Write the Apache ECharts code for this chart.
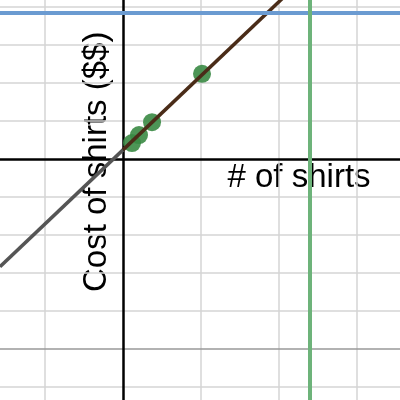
<!DOCTYPE html>
<html><head><meta charset="utf-8">
<script src="https://cdn.jsdelivr.net/npm/echarts@6/dist/echarts.min.js"></script>
<style>html,body{margin:0;padding:0;background:#fff}#c{width:400px;height:400px}</style>
</head><body><div id="c"></div>
<script>
const pointsX = [0.115, 0.205, 0.372, 1.013];
const pointsY = [0.42, 0.63, 0.97, 2.24];
const lineSlope = 1.95;
const lineIntercept = 0.24;
const horizontalY = 3.84;
const verticalX = 2.4;
const xRange = [-1.577, 3.551];
const yRange = [-6.342, 4.184];
const xGrid = [-1, 1, 2, 3];
const yGrid = [-6, -4, -3, -2, -1, 1, 2, 3, 4];
const xTitle = '# of shirts';
const yTitle = 'Cost of shirts ($$)';

const f = x => lineSlope * x + lineIntercept;
const gridStyle = {color: '#d4d4d4', width: 1.5, type: 'solid'};
const chart = echarts.init(document.getElementById('c'));
chart.setOption({
  animation: false,
  grid: {left: 0, right: 0, top: 0, bottom: 0},
  xAxis: {type: 'value', min: xRange[0], max: xRange[1],
    axisLine: {onZero: true, lineStyle: {color: '#000', width: 2.5}}, axisTick: {show: false}, axisLabel: {show: false},
    splitLine: {show: false}},
  yAxis: {type: 'value', min: yRange[0], max: yRange[1],
    axisLine: {onZero: true, lineStyle: {color: '#000', width: 2.5}}, axisTick: {show: false}, axisLabel: {show: false},
    splitLine: {show: false}},
  series: [
    {type: 'line', data: [[-5, 0], [5, 0]], symbol: 'none', lineStyle: {width: 0}, silent: true, z: 0,
     markLine: {symbol: 'none', silent: true, label: {show: false}, z: 0,
       data: xGrid.map(v => ({xAxis: v, lineStyle: gridStyle}))
         .concat(yGrid.map(v => ({yAxis: v, lineStyle: gridStyle})))
         .concat([{yAxis: -5, lineStyle: {color: '#999', width: 1.5, type: 'solid'}}])}},
    {type: 'line', data: [[-5, 0], [5, 0]], symbol: 'none', lineStyle: {width: 0}, silent: true, z: 1,
     markLine: {symbol: 'none', silent: true, label: {show: false},
       data: [{yAxis: horizontalY, lineStyle: {color: '#6b9bd1', width: 4, type: 'solid'}},
              {xAxis: verticalX, lineStyle: {color: '#6db37a', width: 4, type: 'solid'}}]}},
    {type: 'line', data: [[xRange[0], f(xRange[0])], [0, f(0)]], symbol: 'none', lineStyle: {color: '#555', width: 3.5}},
    {type: 'line', data: [[0, f(0)], [xRange[1], f(xRange[1])]], symbol: 'none', lineStyle: {color: '#4a2c18', width: 3.5}},
    {type: 'scatter', data: pointsX.map((x, i) => [x, pointsY[i]]), symbolSize: 18, itemStyle: {color: '#3a8a44', opacity: 0.9}, z: 1}
  ],
  graphic: [
    {type: 'text', left: 226, top: 160, style: {text: xTitle, font: '33px "Liberation Sans", Arial', fill: '#000', stroke: '#fff', lineWidth: 3}},
    {type: 'text', x: 80, y: 292, rotation: Math.PI / 2, style: {text: yTitle, font: '33px "Liberation Sans", Arial', fill: '#000', stroke: '#fff', lineWidth: 3}}
  ]
});
</script></body></html>
